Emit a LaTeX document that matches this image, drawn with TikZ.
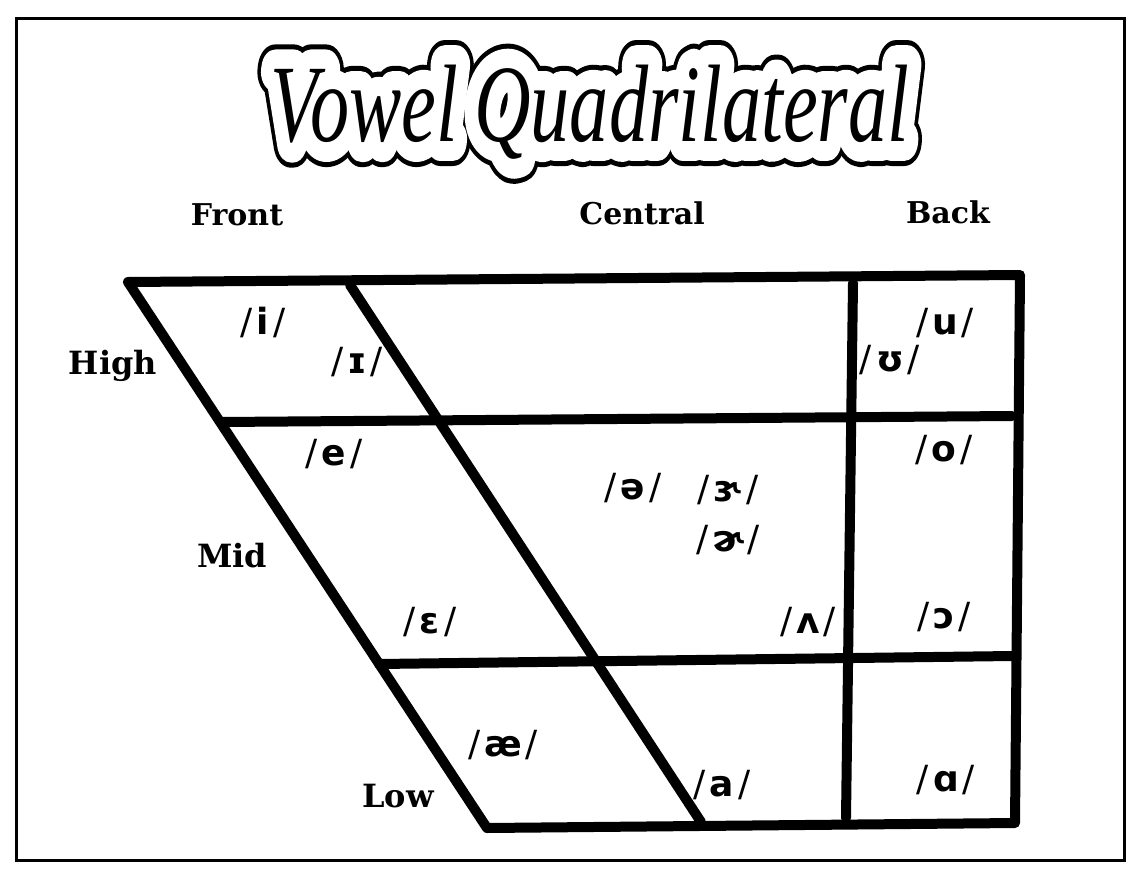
\documentclass[tikz,border=0pt]{standalone}
\usepackage{fontspec}
\newfontfamily\labfont{DejaVu Serif}
\newfontfamily\ipafont{DejaVu Sans}
\newfontfamily\titlefont{Liberation Serif}
\newcommand{\ttltext}{\scalebox{1.03}[1.45]{Vowel\kern16pt Quadrilateral}}
\newcommand{\strk}[2]{\special{pdf:literal direct 2 Tr #1 w 1 j 1 J}#2\special{pdf:literal direct 0 Tr 1 w 0 j 0 J}}
\newcommand{\ip}[1]{/\kern4pt{\bfseries #1}\kern4pt/}
\begin{document}
\begin{tikzpicture}[x=1pt,y=-1pt,
  quad/.style={line width=10pt, line cap=round, line join=round},
  hdr/.style={font=\labfont\bfseries\fontsize{30}{32}\selectfont, inner sep=0pt},
  lvl/.style={font=\labfont\bfseries\fontsize{32}{34}\selectfont, inner sep=0pt},
  ipa/.style={font=\ipafont\fontsize{36}{38}\selectfont, inner sep=0pt},
  ttlst/.style={font=\titlefont\itshape\fontsize{76}{80}\selectfont, inner sep=0pt},
]
\path[fill=white, use as bounding box] (0,0) rectangle (1140,881);
\draw[line width=3pt] (16,18) rectangle (1124,860);

% title with sticker outline
\node[ttlst, text=black] (titleouter) at (590,112) {\strk{34}{\ttltext}};
\node[ttlst, text=white] (titleinner) at (590,112) {\strk{27}{\ttltext}};
\node[ttlst] (title) at (590,112) {\ttltext};

% headers
\node[hdr] (front) at (237,215) {Front};
\node[hdr] (central) at (642,213) {Central};
\node[hdr] (back) at (948,212) {Back};
\node[lvl] (high) at (113,366) {High};
\node[lvl] (mid) at (232,556) {Mid};
\node[lvl] (low) at (398,796) {Low};

% quadrilateral
\coordinate (TL) at (128,282);
\coordinate (TR) at (1020,275);
\coordinate (BR) at (1015,823);
\coordinate (BL) at (487,828);
\coordinate (A1) at (350,285);
\coordinate (A2) at (701,822);
\coordinate (H1L) at (221,422);
\coordinate (H1R) at (1012,416);
\coordinate (H2L) at (379,664);
\coordinate (H2R) at (1012,656);
\coordinate (V1) at (853,283);
\coordinate (V2) at (846,818);
\draw[quad] (TL) -- (TR) -- (BR) -- (BL) -- cycle;
\draw[quad] (A1) -- (A2);
\draw[quad] (H1L) -- (H1R);
\draw[quad] (H2L) -- (H2R);
\draw[quad] (V1) -- (V2);

% vowels
\node[ipa] (i) at (263,322) {\ip{i}};
\node[ipa] (I) at (357,362) {\ip{ɪ}};
\node[ipa] (e) at (334,454) {\ip{e}};
\node[ipa] (schwa) at (633,488) {\ip{ə}};
\node[ipa] (er) at (728,490) {\ip{ɝ}};
\node[ipa] (schwar) at (728,540) {\ip{ɚ}};
\node[ipa] (eps) at (430,622) {\ip{ɛ}};
\node[ipa] (wedge) at (808,622) {\ip{ʌ}};
\node[ipa] (u) at (945,323) {\ip{u}};
\node[ipa] (U) at (890,360) {\ip{ʊ}};
\node[ipa] (o) at (944,450) {\ip{o}};
\node[ipa] (oo) at (944,617) {\ip{ɔ}};
\node[ipa] (ae) at (503,745) {\ip{æ}};
\node[ipa] (a) at (722,785) {\ip{a}};
\node[ipa] (aa) at (946,780) {\ip{ɑ}};
\end{tikzpicture}
\end{document}
